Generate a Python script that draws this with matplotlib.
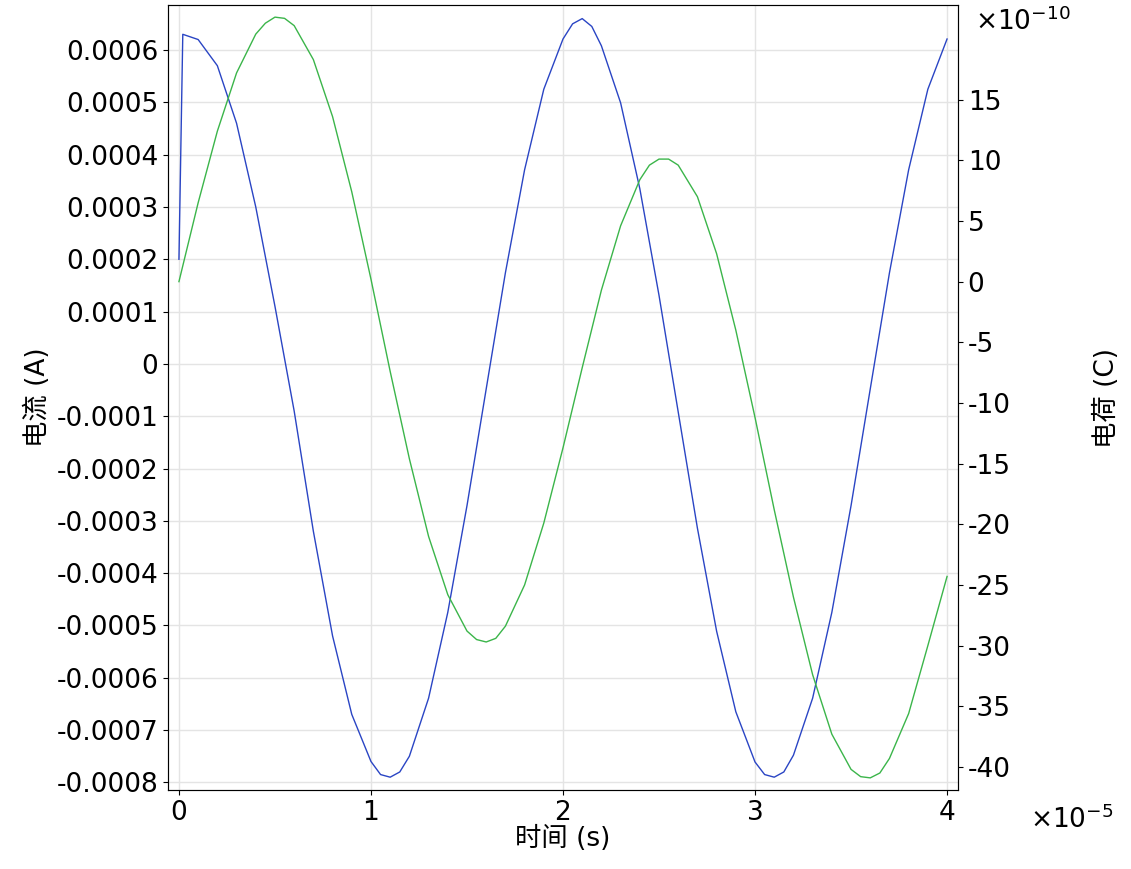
import matplotlib
matplotlib.use('Agg')
import matplotlib.pyplot as plt
from matplotlib.ticker import FuncFormatter

plt.rcParams['font.family'] = ['DejaVu Sans', 'Noto Sans CJK SC']
plt.rcParams['axes.unicode_minus'] = False

# time in units of 1e-5 s
t_cur = [0, 0.02, 0.1, 0.2, 0.3, 0.4, 0.5, 0.6, 0.7, 0.8, 0.9, 1.0, 1.05, 1.1, 1.15, 1.2, 1.3, 1.4, 1.5,
         1.6, 1.7, 1.8, 1.9, 2.0, 2.05, 2.1, 2.15, 2.2, 2.3, 2.4, 2.5, 2.6, 2.7, 2.8, 2.9, 3.0,
         3.05, 3.1, 3.15, 3.2, 3.3, 3.4, 3.5, 3.6, 3.7, 3.8, 3.9, 4.0]
# current in units of 1e-4 A
current = [2.0, 6.3, 6.2, 5.7, 4.6, 3.0, 1.1, -0.9, -3.2, -5.2, -6.7, -7.6, -7.85, -7.9, -7.8, -7.5,
           -6.39, -4.75, -2.71, -0.48, 1.74, 3.71, 5.25, 6.21, 6.5, 6.6, 6.45, 6.08, 4.99, 3.35,
           1.31, -0.92, -3.14, -5.11, -6.65, -7.61, -7.85, -7.9, -7.8, -7.48, -6.39, -4.75,
           -2.71, -0.48, 1.74, 3.71, 5.25, 6.21]

t_chg = [0, 0.1, 0.2, 0.3, 0.4, 0.45, 0.5, 0.55, 0.6, 0.7, 0.8, 0.9, 1.0, 1.1, 1.2, 1.3, 1.4,
         1.5, 1.55, 1.6, 1.65, 1.7, 1.8, 1.9, 2.0, 2.1, 2.2, 2.3, 2.4, 2.45, 2.5, 2.55, 2.6,
         2.7, 2.8, 2.9, 3.0, 3.1, 3.2, 3.3, 3.4, 3.5, 3.55, 3.6, 3.65, 3.7, 3.8, 3.9, 4.0]
# charge in units of 1e-10 C
charge = [0, 6.5, 12.4, 17.2, 20.4, 21.3, 21.8, 21.7, 21.1, 18.3, 13.6, 7.4, 0.2, -7.4,
          -14.6, -21.0, -25.8, -28.8, -29.5, -29.7, -29.4, -28.4, -25.0, -19.9, -13.7, -7.1,
          -0.7, 4.6, 8.4, 9.6, 10.1, 10.1, 9.6, 7.0, 2.3, -4.0, -11.2, -18.8, -26.0, -32.4,
          -37.3, -40.2, -40.8, -40.9, -40.5, -39.3, -35.6, -30.0, -24.3]

left_ticks = [-8, -7, -6, -5, -4, -3, -2, -1, 0, 1, 2, 3, 4, 5, 6]
right_ticks = [-40, -35, -30, -25, -20, -15, -10, -5, 0, 5, 10, 15]

fig = plt.figure(figsize=(11.31, 8.69), dpi=100)
ax = fig.add_axes([168 / 1131, 1 - 790 / 869, 790 / 1131, 785 / 869])
ax.plot(t_cur, current, color='#2a45c4', lw=1)
ax.set_xlim(-0.057, 4.057)
ax.set_ylim(-8.145, 6.86)
ax.set_yticks(left_ticks)
ax.yaxis.set_major_formatter(FuncFormatter(lambda v, p: '0' if v == 0 else f'{v * 1e-4:.4f}'))
ax.set_xticks([0, 1, 2, 3, 4])
ax.grid(True, color='#e4e4e4', lw=1)
ax.set_axisbelow(True)
ax.tick_params(labelsize=19)
ax.set_xlabel('时间 (s)', fontsize=19, labelpad=0)
ax.set_ylabel('电流 (A)', fontsize=19, labelpad=4)
for s in ax.spines.values():
    s.set_color('#555555')

ax2 = ax.twinx()
ax2.plot(t_chg, charge, color='#3bb54a', lw=1)
ax2.set_ylim(-41.9, 22.8)
ax2.set_yticks(right_ticks)
ax2.tick_params(labelsize=19)
ax2.set_ylabel('电荷 (C)', fontsize=19, labelpad=60)

fig.text(1030 / 1131, 1 - 820 / 869, '×10$^{-5}$', fontsize=19, va='center')
fig.text(975 / 1131, 1 - 22 / 869, '×10$^{-10}$', fontsize=19, va='center')

fig.savefig('out.png', dpi=100)
